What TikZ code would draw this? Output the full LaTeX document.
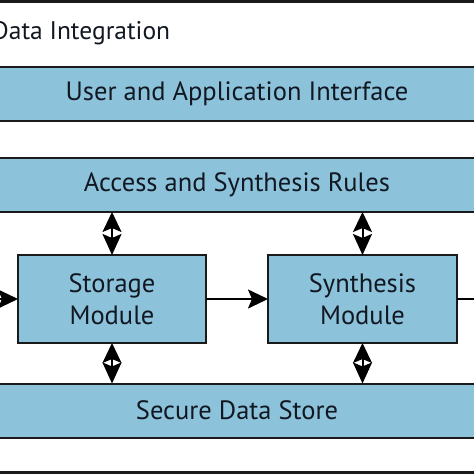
\documentclass[tikz,border=0pt]{standalone}
\usepackage{fontspec}
\setmainfont{PT Sans}
\usetikzlibrary{arrows.meta}
\definecolor{barblue}{HTML}{8CC3DB}
\definecolor{edge}{HTML}{1A1A1A}
\definecolor{ink}{HTML}{111822}
\begin{document}
\begin{tikzpicture}[x=1pt,y=-1pt,
  txt/.style={font=\fontsize{26.5}{32}\selectfont, text=ink},
  bar/.style={txt, draw=edge, line width=2pt, fill=barblue, minimum width=520pt, minimum height=54pt, inner sep=0pt, outer sep=0pt},
  module/.style={txt, draw=edge, line width=2pt, fill=barblue, minimum width=188pt, minimum height=88pt, inner sep=0pt, outer sep=0pt, align=center},
  conn/.style={line width=2pt, draw=black},
  tip/.style={-{Stealth[length=20pt,width=19pt,inset=4pt]}},
  dbl/.style={{Stealth[length=20pt,width=19pt,inset=4pt]}-{Stealth[length=21pt,width=19pt,inset=4pt]}}
]
\useasboundingbox (0,0) rectangle (474,474);
\clip (0,0) rectangle (474,474);
\draw[line width=3.5pt, draw=edge] (-10,1) rectangle (484,472.5);
\node[txt, anchor=base west, inner sep=0pt, font=\fontsize{25.5}{32}\selectfont] (title) at (-8,39) {Data Integration};
\node[bar] (ui) at (237,94) {User and Application Interface};
\node[bar] (rules) at (237,185) {Access and Synthesis Rules};
\node[bar] (store) at (237,410.5) {Secure Data Store};
\node[module] (storage) at (112,299) {Storage\\Module};
\node[module, minimum width=189pt] (synth) at (362.5,299) {Synthesis\\Module};
\coordinate (lin) at (-12,299);
\coordinate (rout) at (486,299);
\draw[conn, dbl] (storage.north |- rules.south) -- (storage.north);
\draw[conn, dbl] (synth.north |- rules.south) -- (synth.north);
\draw[conn, dbl] (storage.south) -- (storage.south |- store.north);
\draw[conn, dbl] (synth.south) -- (synth.south |- store.north);
\draw[conn, tip] (lin) -- (storage.west);
\draw[conn, tip] (storage.east) -- (synth.west);
\draw[conn] (synth.east) -- (rout);
\end{tikzpicture}
\end{document}
